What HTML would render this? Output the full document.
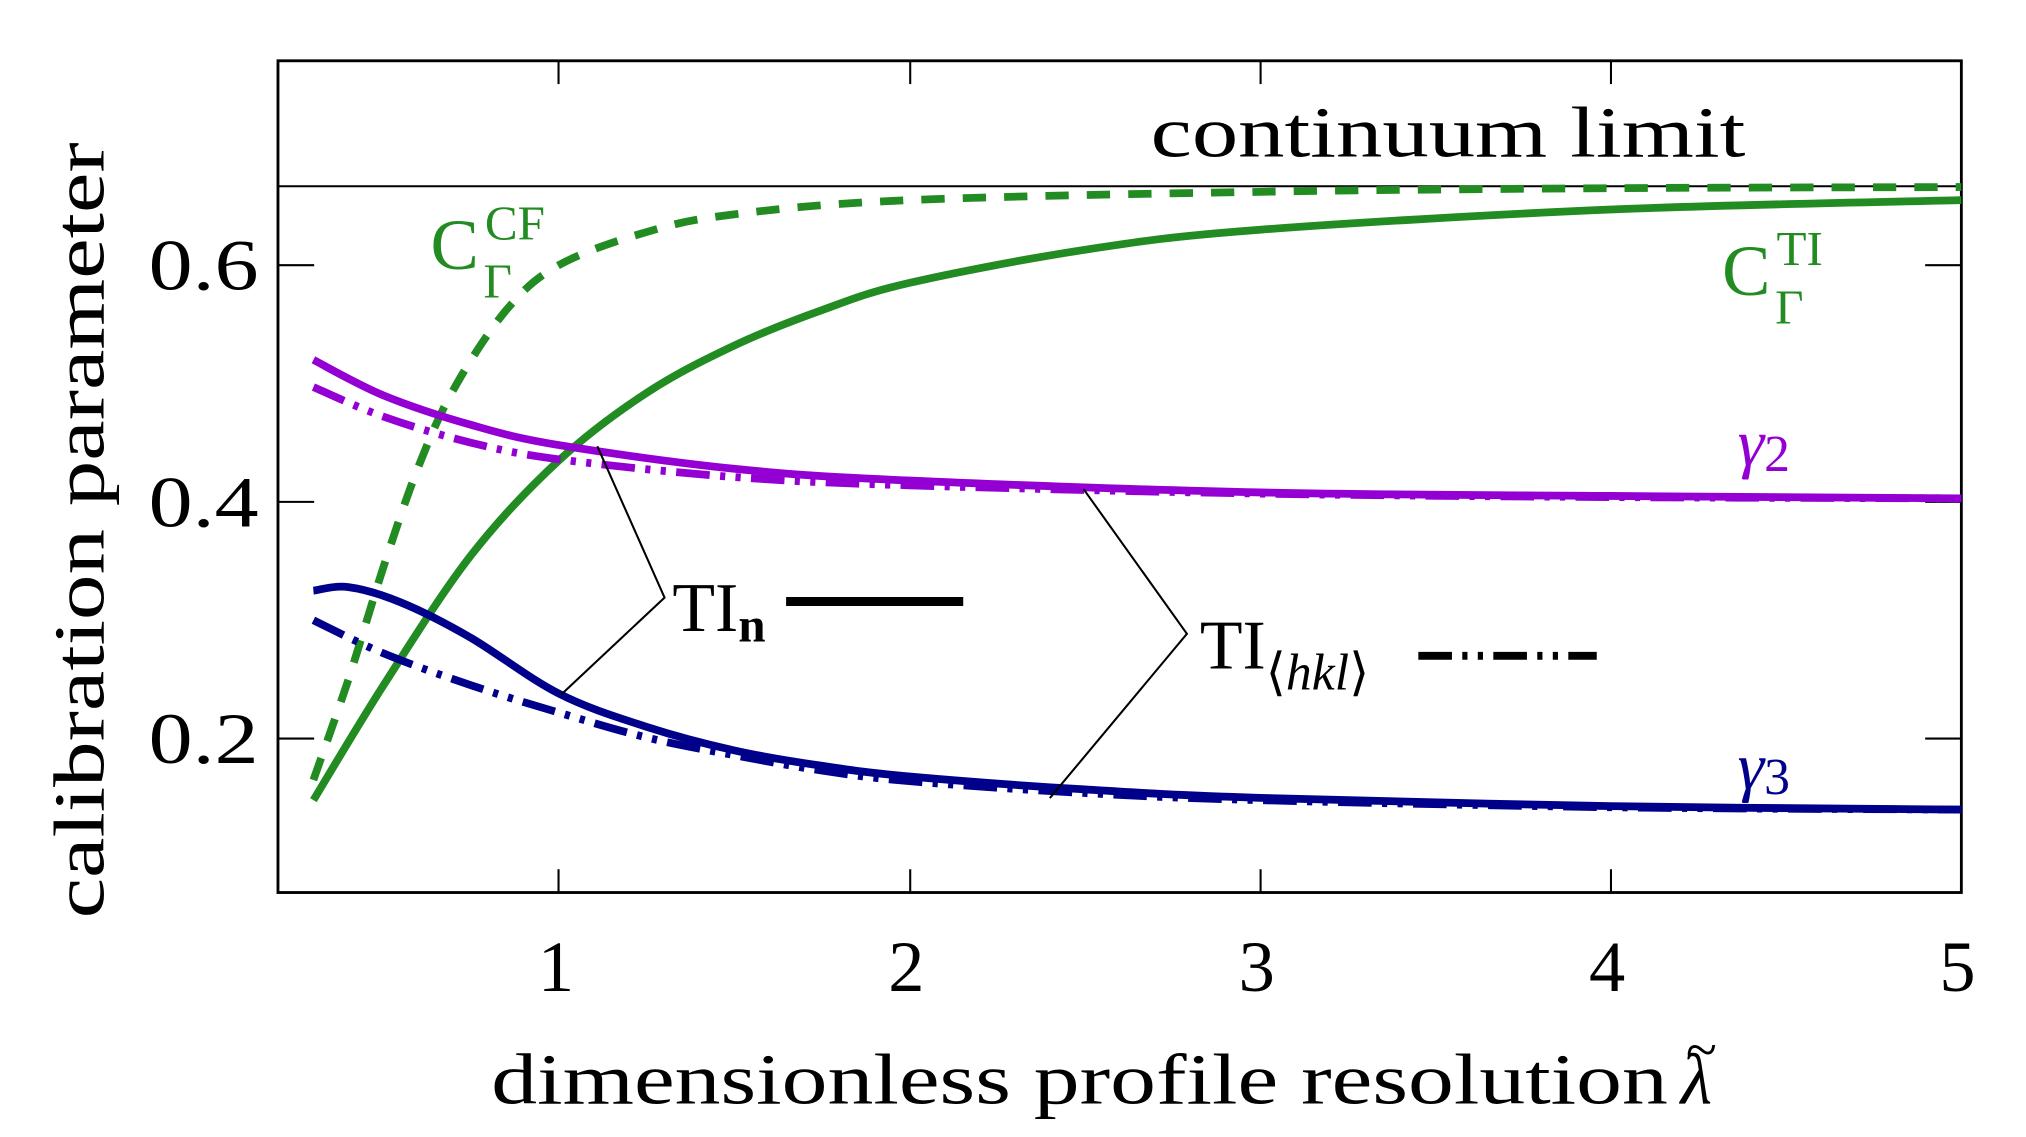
<!DOCTYPE html>
<html><head><meta charset="utf-8"><style>
html,body{margin:0;padding:0;background:#fff;}
svg{display:block;}
text{font-family:"Liberation Serif",serif;}
</style></head><body>
<svg id="s" width="2026" height="1137" viewBox="0 0 1567 879" preserveAspectRatio="none" xmlns="http://www.w3.org/2000/svg">
<rect x="215" y="47" width="1302" height="643" fill="none" stroke="#000" stroke-width="2.2"/>
<line x1="215" y1="144" x2="1517" y2="144" stroke="#000" stroke-width="1.6"/>
<g stroke="#000" stroke-width="1.6">
<line x1="432" y1="690" x2="432" y2="672"/><line x1="432" y1="47" x2="432" y2="65"/>
<line x1="704" y1="690" x2="704" y2="672"/><line x1="704" y1="47" x2="704" y2="65"/>
<line x1="975" y1="690" x2="975" y2="672"/><line x1="975" y1="47" x2="975" y2="65"/>
<line x1="1246" y1="690" x2="1246" y2="672"/><line x1="1246" y1="47" x2="1246" y2="65"/>
<line x1="215" y1="205" x2="243" y2="205"/><line x1="1517" y1="205" x2="1489" y2="205"/>
<line x1="215" y1="388" x2="243" y2="388"/><line x1="1517" y1="388" x2="1489" y2="388"/>
<line x1="215" y1="571" x2="243" y2="571"/><line x1="1517" y1="571" x2="1489" y2="571"/>
</g>
<g font-size="56" text-anchor="middle" fill="#000">
<text x="430" y="766">1</text><text x="701" y="766">2</text><text x="972" y="766">3</text><text x="1243" y="766">4</text><text x="1514" y="766">5</text>
</g>
<g font-size="56" fill="#000">
<text x="115" y="224" textLength="85" lengthAdjust="spacingAndGlyphs">0.6</text><text x="115" y="407" textLength="85" lengthAdjust="spacingAndGlyphs">0.4</text><text x="115" y="590" textLength="85" lengthAdjust="spacingAndGlyphs">0.2</text>
</g>
<text x="380" y="853" font-size="56" textLength="910" lengthAdjust="spacingAndGlyphs">dimensionless profile resolution</text>
<text x="1300" y="853" font-size="56" font-style="italic">λ</text>
<text x="1304" y="826" font-size="44">~</text>
<text transform="translate(80,410) rotate(-90)" font-size="56" text-anchor="middle" textLength="600" lengthAdjust="spacingAndGlyphs">calibration parameter</text>
<text x="890" y="121" font-size="56" textLength="460" lengthAdjust="spacingAndGlyphs">continuum limit</text>
<g id="curves" fill="none" stroke-width="6"></g>
<g stroke="#000" stroke-width="1.6" fill="none">
<polyline points="462,345 514,462 434,537"/>
<polyline points="838,378 918,490 812,617"/>
</g>
<text x="520" y="488" font-size="54">TI<tspan font-weight="bold" font-size="38" dy="8">n</tspan></text>
<line x1="608" y1="465" x2="745" y2="465" stroke="#000" stroke-width="7"/>
<text x="928" y="517" font-size="54">TI<tspan font-size="40" dy="16">⟨<tspan font-style="italic">hkl</tspan>⟩</tspan></text>
<line x1="1097" y1="507" x2="1235" y2="507" stroke="#000" stroke-width="6" stroke-dasharray="26 8 4 8 4 8"/>
<g fill="#228b22">
<text x="333" y="208" font-size="56">C</text><text x="375" y="185" font-size="38">CF</text><text x="374" y="230" font-size="38">Γ</text>
<text x="1332" y="228" font-size="56">C</text><text x="1374" y="205" font-size="38">TI</text><text x="1373" y="250" font-size="38">Γ</text>
</g>
<text x="1344" y="360" font-size="52" font-style="italic" fill="#9400d3">γ<tspan font-style="normal" font-size="40" dy="4">2</tspan></text>
<text x="1344" y="610" font-size="52" font-style="italic" fill="#00008b">γ<tspan font-style="normal" font-size="40" dy="4">3</tspan></text>
</svg>
<script>
function X(v){return 161+271.2*v;}
function Y(v){return 388-(v-0.4)*915;}
function path(pts){
  var P=pts.map(function(p){return [X(p[0]),Y(p[1])];});
  var d="M"+P[0][0].toFixed(1)+","+P[0][1].toFixed(1);
  for(var i=0;i<P.length-1;i++){
    var p0=P[Math.max(i-1,0)],p1=P[i],p2=P[i+1],p3=P[Math.min(i+2,P.length-1)];
    var c1=[p1[0]+(p2[0]-p0[0])/6,p1[1]+(p2[1]-p0[1])/6];
    var c2=[p2[0]-(p3[0]-p1[0])/6,p2[1]-(p3[1]-p1[1])/6];
    d+=" C"+c1[0].toFixed(1)+","+c1[1].toFixed(1)+" "+c2[0].toFixed(1)+","+c2[1].toFixed(1)+" "+p2[0].toFixed(1)+","+p2[1].toFixed(1);
  }
  return d;
}
var series=[
 {c:"#228b22",da:"",p:[[0.3,0.148],[0.5,0.245],[0.75,0.355],[1,0.435],[1.25,0.492],[1.5,0.532],[1.75,0.562],[2,0.585],[2.5,0.613],[3,0.63],[4,0.647],[5,0.655]]},
 {c:"#228b22",da:"18 14",p:[[0.3,0.165],[0.4,0.25],[0.5,0.345],[0.6,0.43],[0.7,0.495],[0.85,0.562],[1,0.6],[1.25,0.628],[1.5,0.643],[2,0.655],[3,0.662],[4,0.665],[5,0.666]]},
 {c:"#9400d3",da:"",p:[[0.3,0.52],[0.5,0.49],[0.75,0.465],[1,0.448],[1.5,0.428],[2,0.418],[3,0.408],[4,0.405],[5,0.403]]},
 {c:"#9400d3",da:"26 8 4 8 4 8",p:[[0.3,0.497],[0.5,0.472],[0.75,0.45],[1,0.436],[1.5,0.421],[2,0.414],[3,0.407],[4,0.404],[5,0.403]]},
 {c:"#00008b",da:"",p:[[0.3,0.325],[0.4,0.328],[0.55,0.315],[0.75,0.285],[1,0.238],[1.25,0.21],[1.5,0.19],[1.75,0.177],[2,0.168],[2.5,0.157],[3,0.15],[4,0.143],[5,0.14]]},
 {c:"#00008b",da:"26 8 4 8 4 8",p:[[0.3,0.3],[0.5,0.272],[0.75,0.245],[1,0.222],[1.25,0.201],[1.5,0.186],[1.75,0.173],[2,0.164],[2.5,0.154],[3,0.148],[4,0.142],[5,0.14]]}
];
var g=document.getElementById("curves");
series.forEach(function(s){
  var e=document.createElementNS("http://www.w3.org/2000/svg","path");
  e.setAttribute("d",path(s.p));e.setAttribute("stroke",s.c);
  if(s.da)e.setAttribute("stroke-dasharray",s.da);
  g.appendChild(e);
});
</script>
</body></html>
